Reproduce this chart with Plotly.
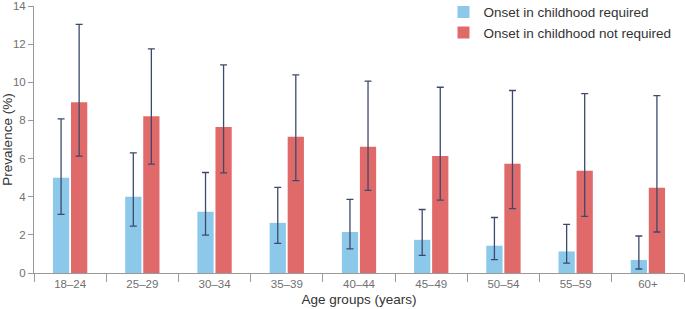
import plotly.graph_objects as go

categories = ["18–24", "25–29", "30–34", "35–39", "40–44", "45–49", "50–54", "55–59", "60+"]

required = [5.0, 4.0, 3.21, 2.63, 2.15, 1.74, 1.43, 1.13, 0.68]
required_hi = [8.08, 6.30, 5.27, 4.49, 3.86, 3.33, 2.91, 2.55, 1.94]
required_lo = [3.07, 2.46, 1.99, 1.55, 1.26, 0.92, 0.70, 0.52, 0.21]

not_required = [8.95, 8.22, 7.66, 7.14, 6.62, 6.14, 5.73, 5.36, 4.47]
not_required_hi = [13.04, 11.75, 10.91, 10.39, 10.06, 9.74, 9.57, 9.41, 9.30]
not_required_lo = [6.13, 5.71, 5.25, 4.84, 4.33, 3.82, 3.38, 2.97, 2.15]

err_color = "#3d4a6b"

def err(vals, hi, lo):
    return dict(type="data", symmetric=False,
                array=[h - v for h, v in zip(hi, vals)],
                arrayminus=[v - l for v, l in zip(vals, lo)],
                color=err_color, thickness=1.3, width=3.5)

fig = go.Figure()
fig.add_trace(go.Bar(x=categories, y=required, name="Onset in childhood required",
                     marker=dict(color="#8bc8ea", line=dict(width=0)),
                     error_y=err(required, required_hi, required_lo)))
fig.add_trace(go.Bar(x=categories, y=not_required, name="Onset in childhood not required",
                     marker=dict(color="#e06a6a", line=dict(width=0)),
                     error_y=err(not_required, not_required_hi, not_required_lo)))

fig.update_layout(
    width=685, height=309,
    margin=dict(l=34, r=1, t=6, b=36, autoexpand=False),
    paper_bgcolor="white", plot_bgcolor="white",
    barmode="group", bargap=0.5, bargroupgap=0.1,
    font=dict(family="Liberation Sans, Arial, sans-serif", size=11, color="#666"),
    showlegend=True,
    legend=dict(x=0.63, y=1.035, xanchor="left", yanchor="top",
                font=dict(size=13.5, color="#333"), bgcolor="rgba(0,0,0,0)",
                tracegroupgap=0),
    xaxis=dict(showline=True, linecolor="#999", linewidth=1,
               ticks="outside", tickson="boundaries", ticklen=8, tickcolor="#999",
               tickfont=dict(size=11.5, color="#707070"),
               title=dict(text="Age groups (years)", font=dict(size=13.5, color="#333"), standoff=5),
               showgrid=False),
    yaxis=dict(range=[0, 14], dtick=2, showline=True, linecolor="#999", linewidth=1,
               ticks="outside", ticklen=5, tickcolor="#999",
               tickfont=dict(size=11.5, color="#707070"),
               title=dict(text="Prevalence (%)", font=dict(size=13.5, color="#333"), standoff=5),
               showgrid=False, zeroline=False),
)

fig.write_html("out.html", config={"displayModeBar": False},
               post_script="document.body.style.margin='0';document.body.style.overflow='hidden';")
